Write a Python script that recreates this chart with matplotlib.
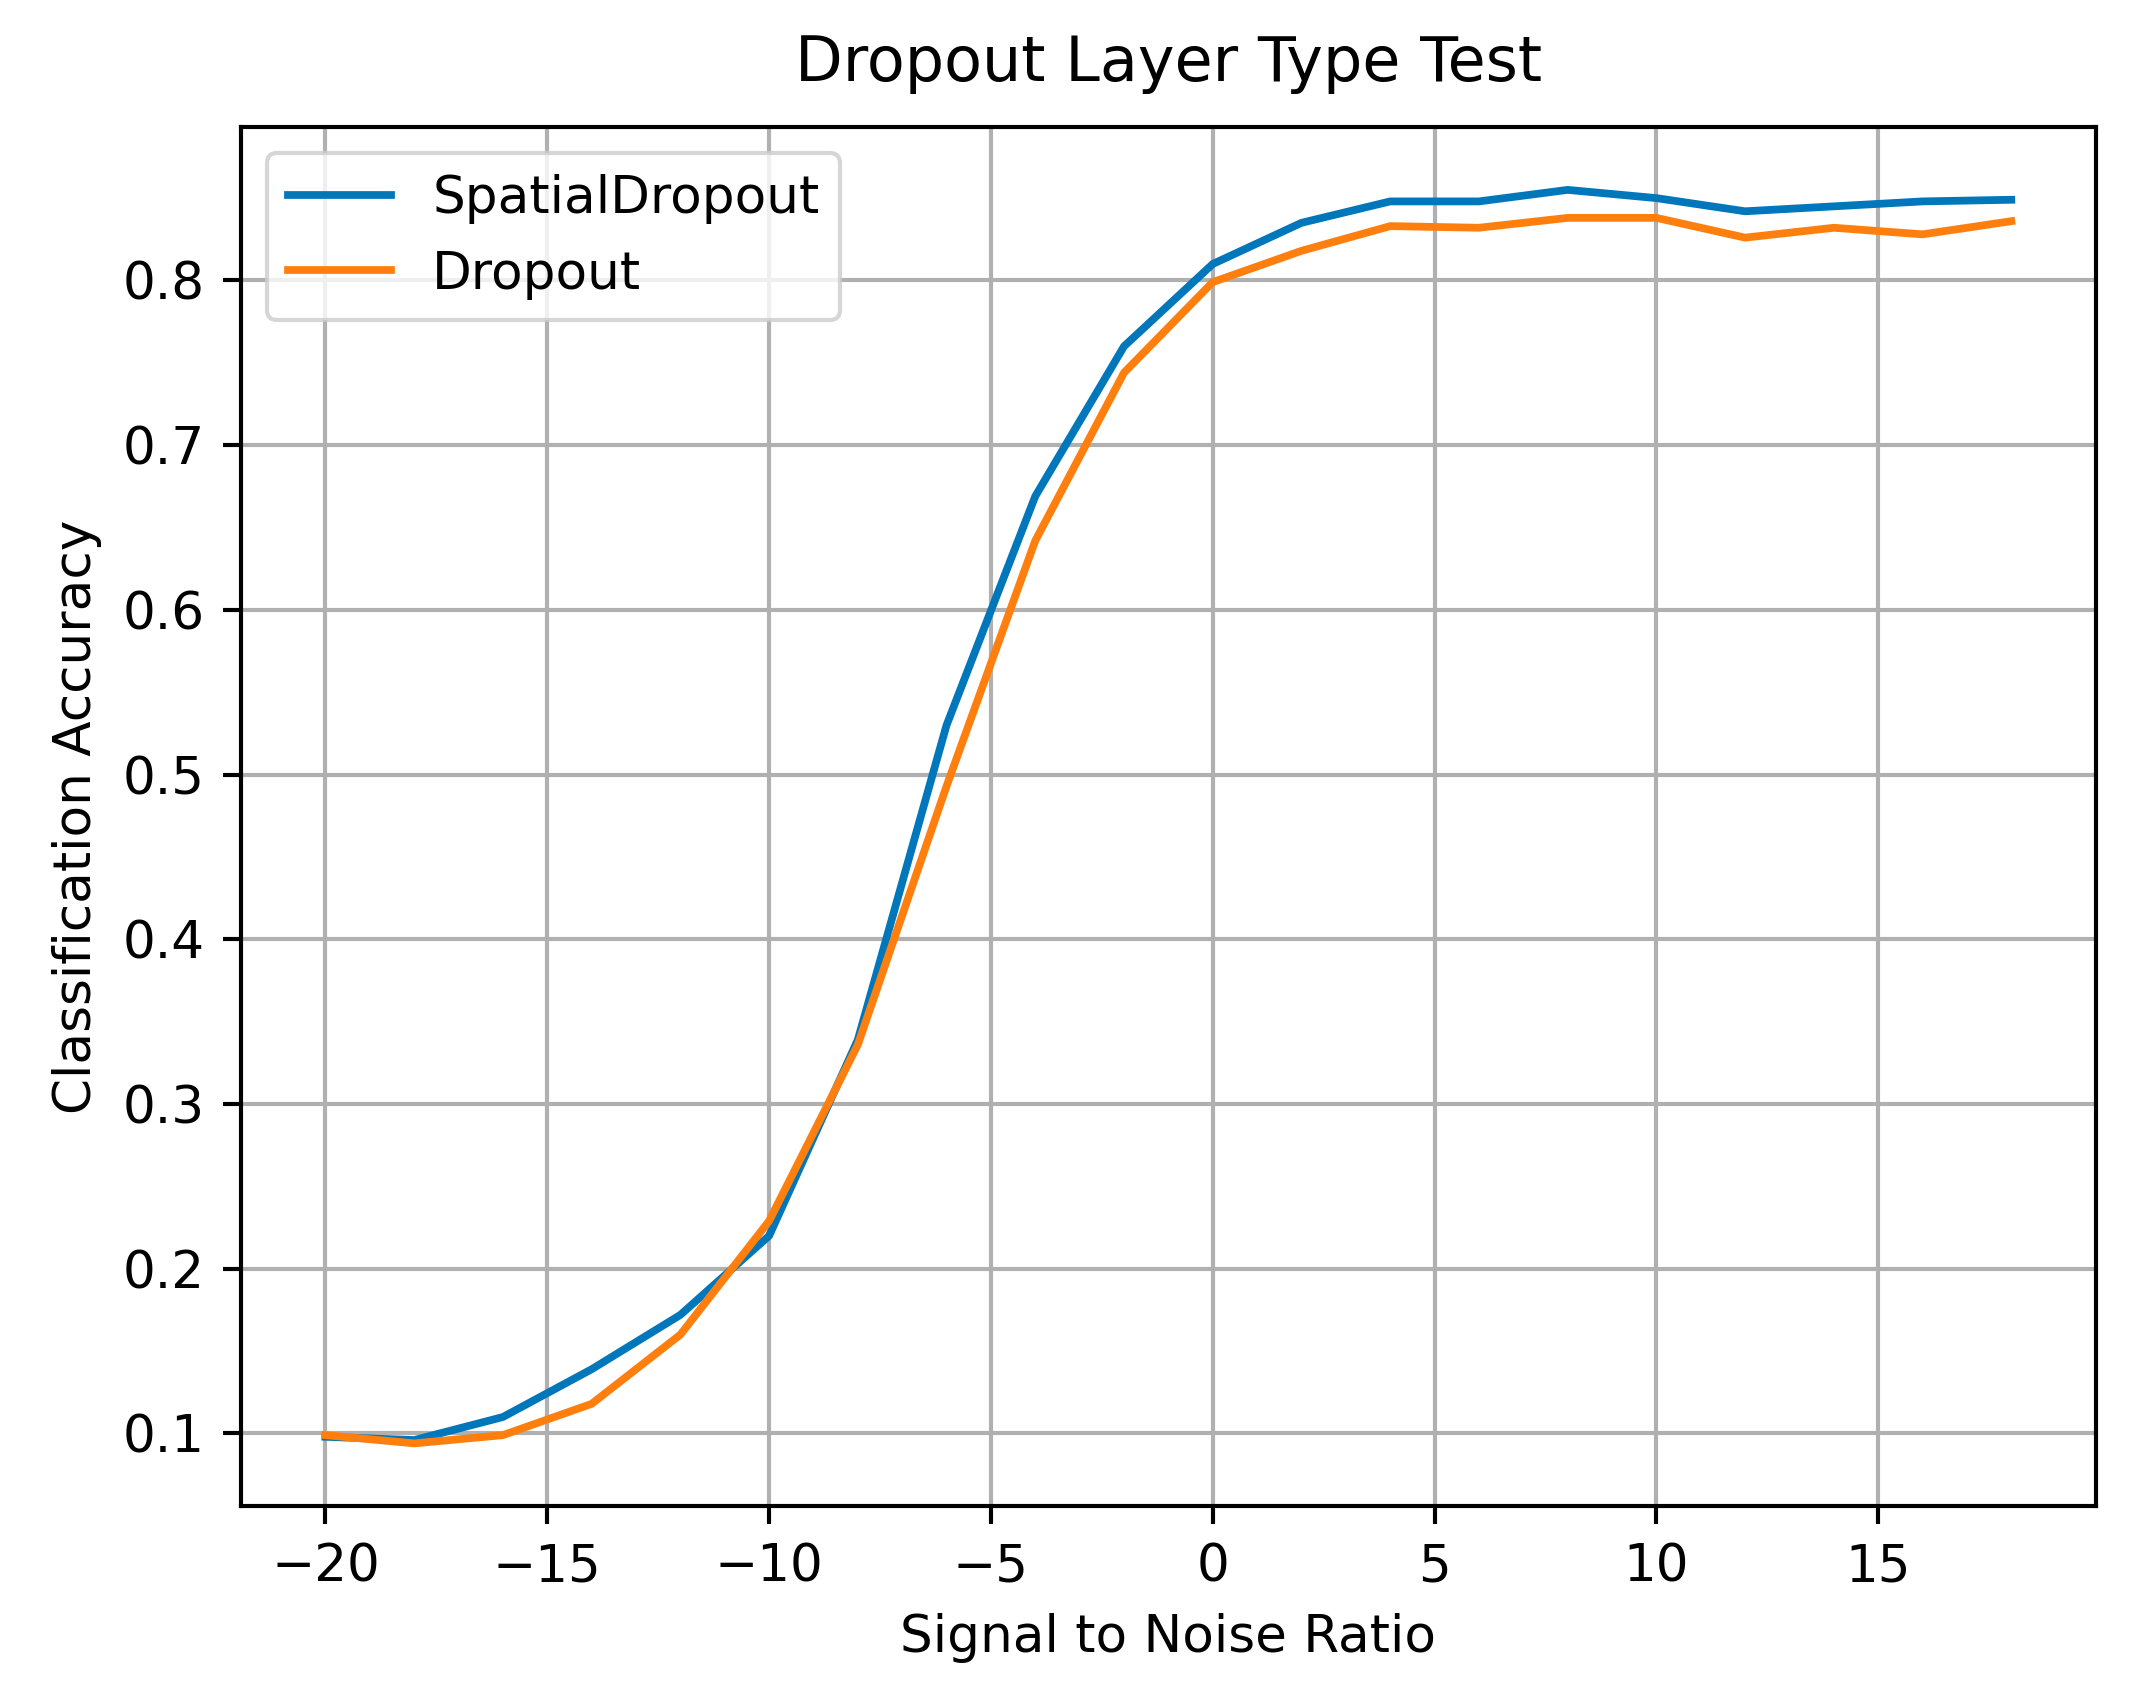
import matplotlib
matplotlib.use("Agg")
import matplotlib.pyplot as plt

snr = [-20, -18, -16, -14, -12, -10, -8, -6, -4, -2, 0, 2, 4, 6, 8, 10, 12, 14, 16, 18]
spatial_dropout = [0.098, 0.096, 0.110, 0.139, 0.172, 0.220, 0.339, 0.530, 0.669, 0.760,
                   0.810, 0.835, 0.848, 0.848, 0.855, 0.850, 0.842, 0.845, 0.848, 0.849]
dropout = [0.099, 0.094, 0.099, 0.118, 0.160, 0.229, 0.336, 0.493, 0.642, 0.744,
           0.799, 0.818, 0.833, 0.832, 0.838, 0.838, 0.826, 0.832, 0.828, 0.836]
labels = ["SpatialDropout", "Dropout"]

s = 1.24
plt.rcParams["axes.linewidth"] = 0.8 * s
plt.rcParams["xtick.major.width"] = 0.8 * s
plt.rcParams["ytick.major.width"] = 0.8 * s
plt.rcParams["xtick.major.size"] = 3.5 * s
plt.rcParams["ytick.major.size"] = 3.5 * s

dpi = 300
fig = plt.figure(figsize=(2134 / dpi, 1696 / dpi), dpi=dpi)
ax = fig.add_axes([0.113, 0.112, 0.869, 0.813])
ax.plot(snr, spatial_dropout, color="#0077bb", label=labels[0], lw=1.5 * s)
ax.plot(snr, dropout, color="#ff7f0e", label=labels[1], lw=1.5 * s)
ax.grid(True, color="#b0b0b0", lw=0.8 * s)
ax.set_title("Dropout Layer Type Test", fontsize=12 * s, pad=9 * s)
ax.set_xlabel("Signal to Noise Ratio", fontsize=10 * s, labelpad=4 * s)
ax.set_ylabel("Classification Accuracy", fontsize=10 * s, labelpad=4 * s)
ax.tick_params(labelsize=10 * s, pad=3.5 * s)
ax.legend(loc="upper left", fontsize=10 * s)
fig.savefig("out.png", dpi=dpi)
